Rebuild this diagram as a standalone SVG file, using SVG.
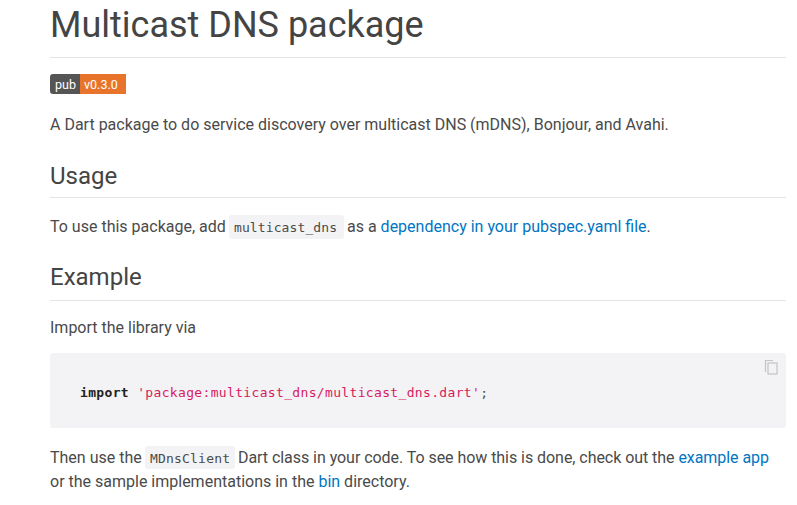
<svg xmlns="http://www.w3.org/2000/svg" width="797" height="505" viewBox="0 0 797 505">
<style>
text{font-family:Roboto,"Noto Sans",sans-serif;fill:#4a4a4a}
.p{font-size:16px}
.h{font-size:24px;fill:#444}
.m{font-family:"DejaVu Sans Mono","Liberation Mono",monospace;font-size:13px}
.a{fill:#0175c2}
.rule{stroke:#e4e4e4;stroke-width:1}
.cbg{fill:#f3f3f5}
</style>
<rect width="797" height="505" fill="#fff"/>
<g id="title"><text x="50" y="37" style="font-size:36px;fill:#444">Multicast DNS package</text>
<line class="rule" x1="50" y1="57.5" x2="786" y2="57.5"/></g>
<g id="badge">
<rect x="50" y="74" width="76" height="20" rx="3" fill="#555"/>
<rect x="80" y="74" width="46" height="20" fill="#e8742c"/>
<rect x="120" y="74" width="6" height="20" rx="3" fill="#e8742c"/>
<text x="55" y="88.5" style="font-size:12.5px;fill:#fff">pub</text>
<text x="84" y="88.5" style="font-size:12.5px;fill:#fff">v0.3.0</text>
</g>
<text class="p" x="50" y="130">A Dart package to do service discovery over multicast DNS (mDNS), Bonjour, and Avahi.</text>
<g id="usage"><text class="h" x="50" y="184">Usage</text>
<line class="rule" x1="50" y1="197.5" x2="786" y2="197.5"/></g>
<rect class="cbg" x="229" y="215" width="115" height="24" rx="3"/>
<text class="p" x="50" y="232">To use this package, add</text>
<text class="m" x="234" y="232" textLength="103">multicast_dns</text>
<text class="p" x="347" y="232">as a <tspan class="a">dependency in your pubspec.yaml file</tspan>.</text>
<g id="example"><text class="h" x="50" y="285">Example</text>
<line class="rule" x1="50" y1="300.5" x2="786" y2="300.5"/></g>
<text class="p" x="50" y="333">Import the library via</text>
<g id="code">
<rect class="cbg" x="50" y="353" width="736" height="75" rx="3"/>
<text class="m" x="80" y="397" textLength="408"><tspan style="font-weight:bold;fill:#222">import</tspan> <tspan style="fill:#d81b60">'package:multicast_dns/multicast_dns.dart'</tspan>;</text>
<g fill="none" stroke="#c4c4c4" stroke-width="1.2">
<path d="M765.5 372 V360.5 H773"/>
<rect x="768" y="363" width="9" height="11"/>
</g>
</g>
<rect class="cbg" x="145" y="446" width="90" height="23" rx="3"/>
<text class="p" x="50" y="463">Then use the</text>
<text class="m" x="150" y="463" textLength="80">MDnsClient</text>
<text class="p" x="238" y="463" textLength="531">Dart class in your code. To see how this is done, check out the <tspan class="a">example app</tspan></text>
<text class="p" x="50" y="487">or the sample implementations in the <tspan class="a">bin</tspan> directory.</text>
</svg>
